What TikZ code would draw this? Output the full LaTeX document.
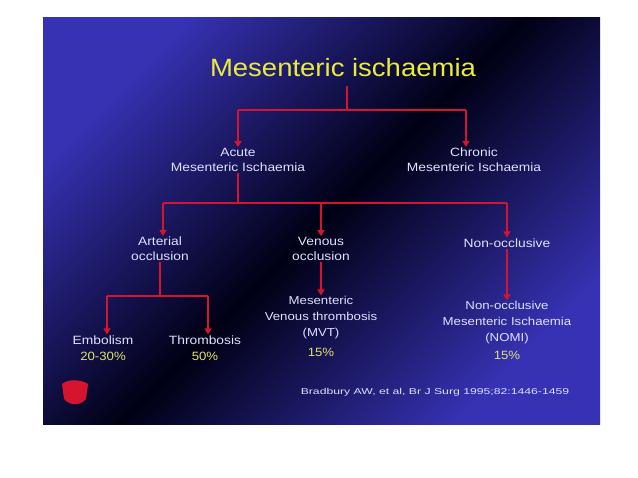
\documentclass[tikz,border=0pt]{standalone}
\usepackage{fontspec}
\setmainfont{Liberation Sans}
\usetikzlibrary{arrows.meta}
\definecolor{slideblue}{RGB}{55,50,180}
\definecolor{linkred}{RGB}{215,20,45}
\definecolor{titleyellow}{RGB}{235,235,60}
\definecolor{pctyellow}{RGB}{225,225,110}
\tikzset{
  lbl/.style={text=white!88!blue, font=\fontsize{12}{15}\selectfont, align=center, inner sep=1pt, xscale=1.15},
  pct/.style={text=pctyellow, font=\fontsize{12}{14}\selectfont, inner sep=1pt, xscale=1.1},
  link/.style={draw=linkred, line width=2.4pt},
  arr/.style={link, -{Triangle[length=6pt,width=7pt]}}
}
\begin{document}
\begin{tikzpicture}[x=1pt, y=-1pt]
  \useasboundingbox (0,0) rectangle (638,478);
  \fill[white] (0,0) rectangle (638,478);

  % slide
  \shade[shading=axis, top color=slideblue, bottom color=slideblue, middle color=black!92!blue, shading angle=45]
    (43,18) rectangle (600,425);

  % title
  \node[text=titleyellow, font=\fontsize{25}{28}\selectfont, xscale=1.1] (title) at (343,68) {Mesenteric ischaemia};

  % level 1
  \node[lbl] (acute) at (238,160) {Acute\\Mesenteric Ischaemia};
  \node[lbl] (chronic) at (474,160) {Chronic\\Mesenteric Ischaemia};

  % level 2
  \node[lbl] (arterial) at (160,249) {Arterial\\occlusion};
  \node[lbl] (venous) at (321,249) {Venous\\occlusion};
  \node[lbl] (nonocc) at (507,243) {Non-occlusive};

  % leaves
  \node[lbl] (embol) at (103,340) {Embolism};
  \node[pct] (embolp) at (103,356) {20-30\%};
  \node[lbl] (thromb) at (205,340) {Thrombosis};
  \node[pct] (thrombp) at (205,356) {50\%};
  \node[lbl, font=\fontsize{11.5}{16}\selectfont] (mvt) at (321,318) {Mesenteric\\Venous thrombosis\\(MVT)};
  \node[pct] (mvtp) at (321,352) {15\%};
  \node[lbl, font=\fontsize{11.5}{16}\selectfont] (nomi) at (507,323) {Non-occlusive\\Mesenteric Ischaemia\\(NOMI)};
  \node[pct] (nomip) at (507,355) {15\%};

  % reference
  \node[lbl, font=\fontsize{8.5}{10}\selectfont, xscale=1.25, anchor=east] (cite) at (571,392) {Bradbury AW, et al, Br J Surg 1995;82:1446-1459};

  % logo
  \fill[linkred] (62,384) .. controls (68,379) and (80,379) .. (88,384)
    -- (86,399) .. controls (80,406) and (70,406) .. (64,399) -- cycle;

  % connectors
  \coordinate (j1) at (347,110);
  \draw[link] (347,86) -- (j1);
  \draw[link] (238,110) -- (466,110);
  \draw[arr] (238,110) -- (acute.north);
  \draw[arr] (466,110) -- (chronic.north -| 466,0);

  \coordinate (j2) at (238,203);
  \draw[link] (acute.south) -- (j2);
  \draw[link] (163,203) -- (507,203);
  \draw[arr] (163,203) -- (arterial.north -| 163,0);
  \draw[arr] (321,203) -- (venous.north);
  \draw[arr] (507,203) -- (nonocc.north);

  \coordinate (j3) at (160,296);
  \draw[link] (arterial.south) -- (j3);
  \draw[link] (107,296) -- (208,296);
  \draw[arr] (107,296) -- (embol.north -| 107,0);
  \draw[arr] (208,296) -- (thromb.north -| 208,0);
  \draw[arr] (venous.south) -- (mvt.north);
  \draw[arr] (nonocc.south) -- (nomi.north);
\end{tikzpicture}
\end{document}
